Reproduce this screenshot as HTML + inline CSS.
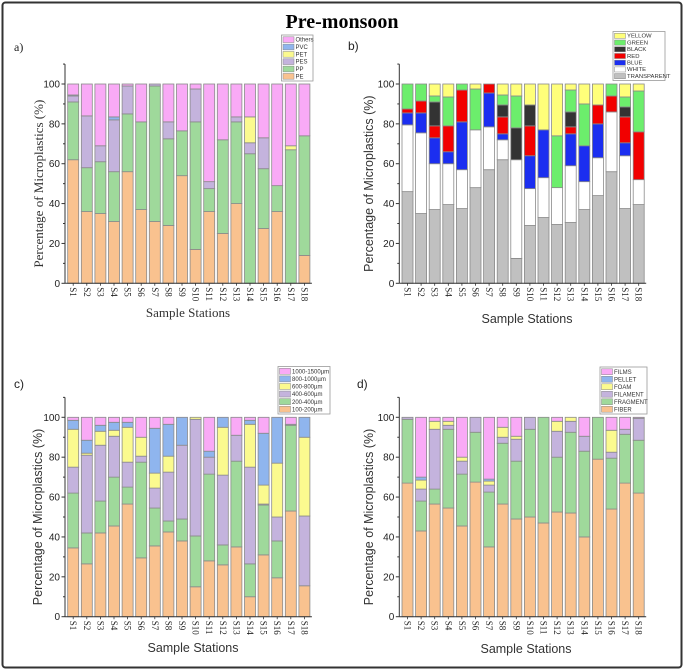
<!DOCTYPE html>
<html><head><meta charset="utf-8"><style>
body{margin:0;background:#fff;width:685px;height:671px;overflow:hidden}
svg{display:block}
</style></head><body>
<svg id="fig" width="685" height="671" xmlns="http://www.w3.org/2000/svg">
<rect x="2.5" y="2.5" width="679" height="665" rx="3" fill="#fff" stroke="#333" stroke-width="2"/>
<text x="342" y="28" text-anchor="middle" font-family="Liberation Serif, serif" font-weight="bold" font-size="20">Pre-monsoon</text>
</svg>
<script>
const stations = ["S1","S2","S3","S4","S5","S6","S7","S8","S9","S10","S11","S12","S13","S14","S15","S16","S17","S18"];
const yTicks = [0,20,40,60,80,100];

// Panel a: polymer type (cumulative tops, %)
const aLabels = ["PE","PP","PES","PET","PVC","Others"];
const aPE  = [62,36,35,31,56,37,31,29,54,17,36,25,40,0,27.5,36,0,14];
const aPP  = [91,58,61,56,85,81,99,72.5,76.5,81,47.5,72,81,65,57.5,49,67,74];
const aPES = [94,84,69,82,99,81,100,81,76.5,97.5,51,72,83.5,70.5,73,49,67,74];
const aPET = [94,84,69,82,99,81,100,81,76.5,97.5,51,72,83.5,83.5,73,49,69,74];
const aPVC = [94.5,84,69,83.5,99,81,100,81,76.5,97.5,51,72,83.5,83.5,73,49,69,74];
const aOthers = [100,100,100,100,100,100,100,100,100,100,100,100,100,100,100,100,100,100];

// Panel b: colour (cumulative tops, %)
const bLabels = ["TRANSPARENT","WHITE","BLUE","RED","BLACK","GREEN","YELLOW"];
const bTransparent = [46,35,37,39.5,37.5,48,57,62,12.5,29,33,29.5,30.5,37,44,56,37.5,39.5];
const bWhite = [79.5,75.5,60,60,57,77,78.5,72,62,47.5,53,48,59,51,63,86,64,52];
const bBlue  = [85.5,85.5,73,66,81,77,95.5,75,62,64,77,48,75,69,80,86,70.5,52];
const bRed   = [87.5,91.5,79,79,97,77,100,83.5,62,79,77,48,78.5,69,89.5,94,83.5,76];
const bBlack = [87.5,91.5,91,79,97,77,100,89.5,78,89.5,77,48,86,69,89.5,94,88.5,76];
const bGreen = [100,100,94,93.5,100,97.5,100,94.5,94,89.5,77,74,97,90,89.5,100,93.5,96.5];
const bYellow = [100,100,100,100,100,100,100,100,100,100,100,100,100,100,100,100,100,100];

// Panel c: size (cumulative tops, %)
const cLabels = ["100-200µm","200-400µm","400-600µm","600-800µm","800-1000µm","1000-1500µm"];
const c100 = [34.5,26.5,42,45.5,56.5,29.5,35.5,42.5,38,15,28,26,35,10,31,19.5,53,15.5];
const c200 = [62,42,58,70,65,77.5,54.5,48,49,40.5,71.5,36,78,26.5,56,38,96,15.5];
const c400 = [75,81,86,90.5,77.5,80.5,64.5,72.5,86,99,80,71,91,75,56.5,50,96.5,50.5];
const c600 = [94,82,93,93.5,95,90,72,80.5,86,100,80,95,91,96.5,66,77,96.5,90];
const c800 = [98.5,88.5,96,97.5,97.5,90,94.5,96.5,100,100,83,100,91,98.5,92,100,96.5,100];
const c1000 = [100,100,100,100,100,100,100,100,100,100,100,100,100,100,100,100,100,100];

// Panel d: shape (cumulative tops, %)
const dLabels = ["FIBER","FRAGMENT","FILAMENT","FOAM","PELLET","FILMS"];
const dFiber = [67,43,56.5,54.5,45.5,67.5,35,56.5,49,50,47,52.5,52,40,79,54,67,62];
const dFragment = [99,58,64,94,71.5,92.5,62.5,87,78,94,100,80,92.5,83,100,79.5,91.5,88.5];
const dFilament = [100,64,94,96,78,100,66,90,89,100,100,93,98,90.5,100,82.5,94,99.5];
const dFoam = [100,68.5,98,98,80,100,68,95,90.5,100,100,98,100,90.5,100,93.5,94,99.5];
const dPellet = [100,70,98,98,80,100,69,95,90.5,100,100,98,100,90.5,100,93.5,94,99.5];
const dFilms = [100,100,100,100,100,100,100,100,100,100,100,100,100,100,100,100,100,100];

const soft = ["#f9c28f","#9fd99b","#c4b3dd","#fbfa8f","#8fb5ee","#f9aaf6"];
const bCols = ["#c0c0c0","#ffffff","#1b2ef0","#f20000","#333333","#6cee6c","#ffff7a"];

const NS = "http://www.w3.org/2000/svg";
const svg = document.getElementById("fig");
function mk(tag, attrs, parent){ const e=document.createElementNS(NS,tag); for(const k in attrs) e.setAttribute(k,attrs[k]); (parent||svg).appendChild(e); return e; }

function panel(cfg){
  const g = mk("g",{});
  
  
  const x0=cfg.x0, y0=cfg.y0, y100=cfg.y100;
  const yS = v => y0 - (y0-y100)*v/100;
  const pitch=13.6, bw=11;
  const xS = i => x0 + 2.7 + i*pitch;
  // bars
  stations.forEach((s,i)=>{
    let prev=0;
    cfg.series.forEach((ser,k)=>{
      const top=Math.max(ser[i],prev);
      if(top-prev>0.01){
        const r=mk("rect",{x:xS(i),y:yS(top),width:bw,height:yS(prev)-yS(top),fill:cfg.colors[k],stroke:"#8a8a8a","stroke-width":0.8},g);
        
        
      }
      prev=top;
    });
    const t=mk("text",{x:0,y:0,transform:`translate(${xS(i)+bw/2-3},${y0+4}) rotate(90)`,"font-family":"Liberation Serif, serif","font-size":9,fill:"#222"},g);
    t.textContent=s;
    
    
  });
  // axes
  const xEnd = xS(17)+bw+2;
  const ya=mk("line",{x1:x0,y1:yS(110),x2:x0,y2:y0,stroke:"#333","stroke-width":1},g);
  
  
  const xa=mk("line",{x1:x0,y1:y0,x2:xEnd,y2:y0,stroke:"#333","stroke-width":1},g);
  
  
  for(let v=0; v<=110; v+=10){
    mk("line",{x1:x0-(v%20===0?3.5:2),y1:yS(v),x2:x0,y2:yS(v),stroke:"#333","stroke-width":1},g);
  }
  stations.forEach((s,i)=>{ mk("line",{x1:xS(i)+bw/2,y1:y0,x2:xS(i)+bw/2,y2:y0+2.5,stroke:"#333","stroke-width":0.8},g); });
  yTicks.forEach(v=>{
    const t=mk("text",{x:x0-5,y:yS(v)+3.5,"text-anchor":"end","font-family":"Liberation Sans, sans-serif","font-size":10,fill:"#222"},g);
    t.textContent=v;
    
    
  });
  const ff = cfg.serif ? "Liberation Serif, serif" : "Liberation Sans, sans-serif";
  const yt=mk("text",{x:0,y:0,transform:`translate(${cfg.ytx},${(y0+y100)/2}) rotate(-90)`,"text-anchor":"middle","font-family":ff,"font-size":cfg.serif?13:12.5,fill:"#333"},g);
  yt.textContent="Percentage of Microplastics (%)";
  
  
  const xt=mk("text",{x:cfg.xtx,y:cfg.xty,"text-anchor":"middle","font-family":ff,"font-size":cfg.serif?13:12.5,fill:"#333"},g);
  xt.textContent="Sample Stations";
  
  
  const pl=mk("text",{x:cfg.plx,y:cfg.ply,"font-family":ff,"font-size":12,fill:"#222"},g);
  pl.textContent=cfg.letter;
  
  
  // legend
  const L=cfg.legend, n=cfg.labels.length, rh=(L.h-2)/n;
  const lg=mk("g",{},g);
  
  
  mk("rect",{x:L.x,y:L.y,width:L.w,height:L.h,fill:"#fff",stroke:"#999","stroke-width":0.8},lg);
  for(let k=0;k<n;k++){
    const idx=n-1-k;
    const yy=L.y+1+k*rh;
    const sw=mk("rect",{x:L.x+1.5,y:yy+0.8,width:11,height:rh-1.6,fill:cfg.colors[idx],stroke:"#888","stroke-width":0.5},lg);
    
    
    const t=mk("text",{x:L.x+14,y:yy+rh-1.6,"font-family":"Liberation Sans, sans-serif","font-size":Math.min(6,rh-0.8),fill:"#333"},lg);
    t.textContent=cfg.labels[idx];
    
    
  }
}

panel({name:"panel-a-polymer",letter:"a)",serif:true,x0:65,y0:283.3,y100:84,series:[aPE,aPP,aPES,aPET,aPVC,aOthers],labels:aLabels,colors:soft,
  ytx:43,xtx:188,xty:317,plx:14,ply:51,legend:{x:281.5,y:35,w:31.5,h:46}});
panel({name:"panel-b-colour",letter:"b)",serif:false,x0:399.3,y0:283.3,y100:84,series:[bTransparent,bWhite,bBlue,bRed,bBlack,bGreen,bYellow],labels:bLabels,colors:bCols,
  ytx:373,xtx:527,xty:323,plx:348,ply:50,legend:{x:613,y:31.5,w:52,h:49}});
panel({name:"panel-c-size",letter:"c)",serif:false,x0:65,y0:616.7,y100:417.3,series:[c100,c200,c400,c600,c800,c1000],labels:cLabels,colors:soft,
  ytx:42,xtx:193,xty:652,plx:14,ply:388,legend:{x:278,y:366.5,w:52,h:47.5}});
panel({name:"panel-d-shape",letter:"d)",serif:false,x0:399.3,y0:616.7,y100:417.3,series:[dFiber,dFragment,dFilament,dFoam,dPellet,dFilms],labels:dLabels,colors:soft,
  ytx:373,xtx:526,xty:653,plx:357,ply:388,legend:{x:600,y:367,w:47,h:47}});
</script>
</body></html>
